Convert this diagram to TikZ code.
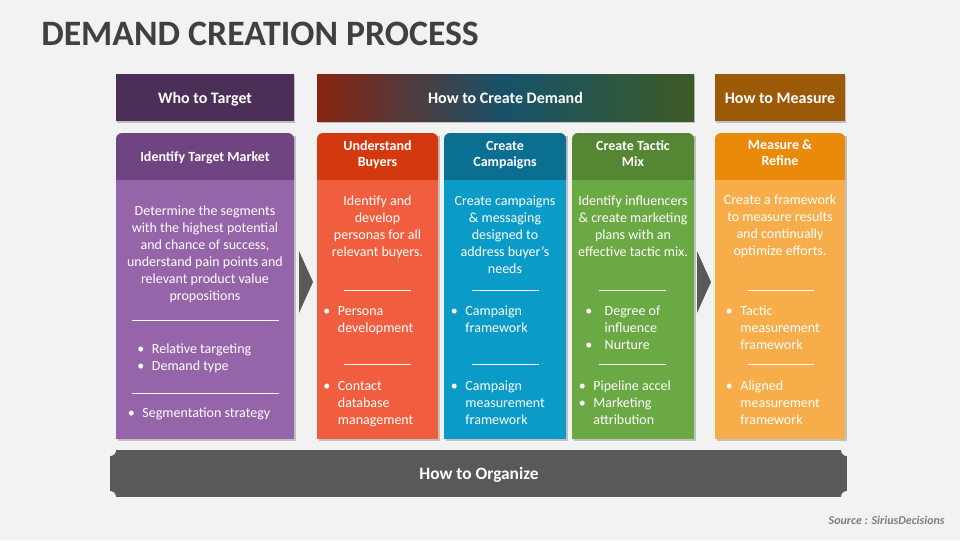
\documentclass[tikz,border=0pt]{standalone}
\usepackage{fontspec}
\setmainfont{Carlito}
\usepackage{xcolor}
\definecolor{slide-bg}{HTML}{F2F2F2}
\definecolor{title-grey}{HTML}{404040}
\definecolor{target-dark}{HTML}{4B2F56}
\definecolor{target-head}{HTML}{6F4581}
\definecolor{target-body}{HTML}{9665A9}
\definecolor{create-red}{HTML}{8A2412}
\definecolor{create-teal}{HTML}{17526A}
\definecolor{create-green}{HTML}{3C5A24}
\definecolor{buyers-head}{HTML}{D4380E}
\definecolor{buyers-body}{HTML}{F05E3F}
\definecolor{campaign-head}{HTML}{0B6F91}
\definecolor{campaign-body}{HTML}{0B9BC9}
\definecolor{tactic-head}{HTML}{558634}
\definecolor{tactic-body}{HTML}{6BA944}
\definecolor{measure-dark}{HTML}{9C5A08}
\definecolor{measure-head}{HTML}{EA8A0B}
\definecolor{measure-body}{HTML}{F8AD4B}
\definecolor{organize-grey}{HTML}{595959}
\definecolor{source-grey}{HTML}{7F7F7F}
\usepackage{tikz}

\tikzset{
  bartext/.style={text=white, font=\bfseries\fontsize{12}{14}\selectfont, anchor=base},
  headtext/.style={text=white, font=\bfseries\fontsize{10.5}{12.5}\selectfont, anchor=base, inner sep=0pt},
  bodytext/.style={text=white, font=\fontsize{10.5}{12.75}\selectfont, anchor=base, inner sep=0pt},
  itemtext/.style={text=white, font=\fontsize{10.5}{12.75}\selectfont, anchor=base west, inner sep=0pt},
  sepline/.style={white, line width=0.75pt},
  dropshade/.style={fill=black, opacity=0.2},
}
\newcommand{\itemlist}[2][11pt]{\begin{tabular}[t]{@{}p{#1}@{}l@{}}#2\end{tabular}}
\newcommand{\centerlines}[1]{\begin{tabular}[t]{@{}c@{}}#1\end{tabular}}

\begin{document}
\begin{tikzpicture}[x=0.75pt, y=-0.75pt]

    % Background
    \fill[slide-bg] (0,0) rectangle (960,540);

    % Title
    \node[anchor=base west, inner sep=0pt, text=title-grey,
          font=\bfseries\fontsize{26.8}{30}\selectfont] (title) at (41,45) {DEMAND CREATION PROCESS};

    % Top bars
    \fill[dropshade] (117,76) rectangle (295,123);
    \fill[dropshade] (318,76) rectangle (695,123);
    \fill[dropshade] (716,76) rectangle (846,123);
    \fill[target-dark] (116,74) rectangle (294,121);
    \shade[left color=create-red, right color=create-green, middle color=create-teal] (317,74) rectangle (694,121);
    \fill[measure-dark] (715,74) rectangle (845,121);
    \node[bartext] (who) at (205,103) {Who to Target};
    \node[bartext] (create) at (505.5,103) {How to Create Demand};
    \node[bartext] (measure) at (780,103) {How to Measure};

    % Column shadows
    \fill[dropshade] (117.5,136) rectangle (295.5,441);
    \fill[dropshade] (318.5,136) rectangle (439.5,441);
    \fill[dropshade] (445.5,136) rectangle (567.5,441);
    \fill[dropshade] (573.5,136) rectangle (695.5,441);
    \fill[dropshade] (716.5,136) rectangle (846.5,441);

    % Identify target market
    \fill[target-head] (116,180) [rounded corners=4.5pt] -- (116,133) -- (294,133) [sharp corners] -- (294,180) -- cycle;
    \fill[target-body] (116,180) rectangle (294,439);
    \node[headtext] (market) at (205,161) {Identify Target Market};
    \node[bodytext] (marketbody) at (205,215) {\centerlines{Determine the segments\\with the highest potential\\and chance of success,\\understand pain points and\\relevant product value\\propositions}};
    \draw[sepline] (132,320) -- (279,320);
    \node[itemtext] (marketlist) at (137,353) {\itemlist{\textbullet & Relative targeting\\ \textbullet & Demand type}};
    \draw[sepline] (132,393) -- (279,393);
    \node[itemtext] (marketseg) at (127.5,417) {\itemlist{\textbullet & Segmentation strategy}};

    % Understand buyers
    \fill[buyers-head] (317,180) [rounded corners=4.5pt] -- (317,133) -- (438,133) [sharp corners] -- (438,180) -- cycle;
    \fill[buyers-body] (317,180) rectangle (438,439);
    \node[headtext] (buyers) at (377.5,150) {\centerlines{Understand\\Buyers}};
    \node[bodytext] (buyersbody) at (377.5,205) {\centerlines{Identify and\\develop\\personas for all\\relevant buyers.}};
    \draw[sepline] (344,290) -- (411,290);
    \node[itemtext] (buyerslist) at (323,315) {\itemlist{\textbullet & Persona\\ & development}};
    \draw[sepline] (344,364) -- (411,364);
    \node[itemtext] (buyersdb) at (323,390) {\itemlist{\textbullet & Contact\\ & database\\ & management}};

    % Create campaigns
    \fill[campaign-head] (444,180) [rounded corners=4.5pt] -- (444,133) -- (566,133) [sharp corners] -- (566,180) -- cycle;
    \fill[campaign-body] (444,180) rectangle (566,439);
    \node[headtext] (campaigns) at (505,150) {\centerlines{Create\\Campaigns}};
    \node[bodytext] (campaignsbody) at (505,205) {\centerlines{Create campaigns\\\& messaging\\designed to\\address buyer’s\\needs}};
    \draw[sepline] (472,290) -- (539,290);
    \node[itemtext] (campaignslist) at (450.5,315) {\itemlist{\textbullet & Campaign\\ & framework}};
    \draw[sepline] (472,364) -- (539,364);
    \node[itemtext] (campaignsmeas) at (450.5,390) {\itemlist{\textbullet & Campaign\\ & measurement\\ & framework}};

    % Create tactic mix
    \fill[tactic-head] (572,180) [rounded corners=4.5pt] -- (572,133) -- (694,133) [sharp corners] -- (694,180) -- cycle;
    \fill[tactic-body] (572,180) rectangle (694,439);
    \node[headtext] (tactic) at (633,150) {\centerlines{Create Tactic\\Mix}};
    \node[bodytext] (tacticbody) at (633,205) {\centerlines{Identify influencers\\\& create marketing\\plans with an\\effective tactic mix.}};
    \draw[sepline] (599,290) -- (666,290);
    \node[itemtext] (tacticlist) at (585,315) {\itemlist[14.6pt]{\textbullet & Degree of\\ & influence\\ \textbullet & Nurture}};
    \draw[sepline] (599,364) -- (666,364);
    \node[itemtext] (tacticpipe) at (578.5,390) {\itemlist{\textbullet & Pipeline accel\\ \textbullet & Marketing\\ & attribution}};

    % Measure and refine
    \fill[measure-head] (715,180) [rounded corners=4.5pt] -- (715,133) -- (845,133) [sharp corners] -- (845,180) -- cycle;
    \fill[measure-body] (715,180) rectangle (845,439);
    \node[headtext] (refine) at (780,149) {\centerlines{Measure \&\\Refine}};
    \node[bodytext] (refinebody) at (780,204) {\centerlines{Create a framework\\to measure results\\and continually\\optimize efforts.}};
    \draw[sepline] (748,290) -- (814,290);
    \node[itemtext] (refinelist) at (725.5,315) {\itemlist{\textbullet & Tactic\\ & measurement\\ & framework}};
    \draw[sepline] (748,364) -- (814,364);
    \node[itemtext] (refinealign) at (725.5,390) {\itemlist{\textbullet & Aligned\\ & measurement\\ & framework}};

    % Arrows
    \fill[organize-grey] (299,251) -- (313,282) -- (299,313) -- cycle;
    \fill[organize-grey] (697,251) -- (711,282) -- (697,313) -- cycle;

    % How to organize
    \fill[organize-grey] (110,450) rectangle (847,497);
    \foreach \cx/\cy in {110/450, 847/450, 110/497, 847/497}
        \fill[slide-bg] (\cx,\cy) circle (4.5pt);
    \node[bartext, font=\bfseries\fontsize{13}{15}\selectfont] (organize) at (479,479) {How to Organize};

    % Source
    \node[anchor=base east, inner sep=0pt, text=source-grey,
          font=\bfseries\itshape\fontsize{9}{11}\selectfont] (source) at (945,524) {Source : SiriusDecisions};

\end{tikzpicture}
\end{document}
